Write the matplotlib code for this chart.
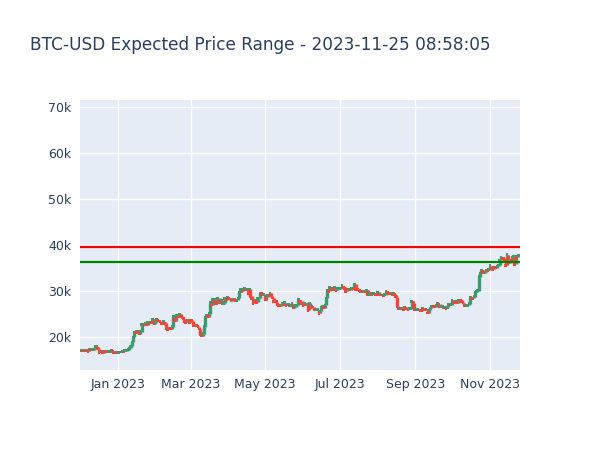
import numpy as np
import pandas as pd
import matplotlib.pyplot as plt
import matplotlib.dates as mdates
from matplotlib.ticker import FuncFormatter

#--------daily closes (USD), Dec 2022 -> Nov 25 2023-------#
first_open = 17170

close_dec = [16970, 17090, 16890, 17110, 16970, 17090, 16840, 17220, 17130, 17130, 17090, 17210, 17780, 17810, 17360, 16630,
             16780, 16740, 16440, 16900, 16830, 16820, 16780, 16840, 16840, 16920, 16700, 16550, 16640, 16600, 16550]
close_jan = [16610, 16670, 16670, 16850, 16830, 16950, 16950, 17090, 17180, 17440, 17940, 18850, 19930, 20950, 20870, 21170,
             21160, 20690, 21090, 22680, 22780, 22710, 22930, 22640, 23060, 23010, 23080, 23030, 23770, 22840, 23140]
close_feb = [23720, 23490, 23430, 23330, 22930, 22760, 23260, 22950, 21800, 21630, 21860, 21790, 21770, 22200, 24330, 23520,
             24570, 24630, 24280, 24840, 24440, 24190, 23950, 23200, 23170, 23550, 23490, 23150]
close_mar = [23650, 23480, 22360, 22350, 22430, 22410, 22200, 21700, 20360, 20190, 20630, 22160, 24200, 24750, 24380, 25050,
             27420, 26970, 28040, 27770, 28170, 27310, 28330, 27490, 27490, 27990, 27140, 27270, 28350, 28030, 28480]
close_apr = [28410, 28200, 27790, 28170, 28180, 28040, 27920, 27960, 28330, 29650, 30230, 29890, 30400, 30490, 30320, 30320,
             29430, 30400, 28820, 28250, 27280, 27820, 27600, 27530, 28310, 28420, 29470, 29340, 29250, 29270]
close_may = [28090, 28680, 29030, 28850, 29540, 28900, 28460, 27690, 27660, 27620, 26990, 26810, 26790, 26930, 27160, 27030,
             27400, 26830, 26890, 27120, 26750, 26850, 27230, 26330, 26470, 26720, 26870, 28090, 27750, 27700, 27220]
close_jun = [26820, 27250, 27070, 27120, 25760, 27240, 26340, 26500, 26480, 25850, 25940, 25900, 25920, 25120, 25580, 26330,
             26510, 26340, 26850, 28330, 30030, 29910, 30700, 30550, 30480, 30270, 30690, 30090, 30450, 30480]
close_jul = [30590, 30620, 31160, 30770, 30510, 29900, 30350, 30290, 30170, 30420, 30620, 30390, 31480, 30320, 30300, 30250,
             30150, 29860, 29910, 29800, 29910, 29800, 30090, 29180, 29230, 29350, 29230, 29310, 29360, 29280, 29230]
close_aug = [29710, 29180, 29180, 29070, 29090, 29050, 29180, 29770, 29580, 29430, 29400, 29420, 29280, 29410, 29170, 28700,
             26660, 26050, 26100, 26190, 26120, 25930, 26430, 26160, 26060, 26010, 26090, 26110, 27730, 27300, 25940]
close_sep = [25800, 25870, 25970, 25830, 25780, 25750, 26240, 25910, 25890, 25830, 25160, 25840, 26230, 26540, 26610, 26570,
             26530, 26770, 27210, 27130, 26570, 26580, 26580, 26260, 26300, 26220, 26370, 27020, 26910, 26970]
close_oct = [27980, 27530, 27430, 27790, 27410, 27950, 27970, 27940, 27600, 27390, 26880, 26760, 26860, 26860, 27160, 28520,
             28420, 28330, 28720, 29680, 29920, 29990, 33090, 33900, 34500, 34160, 33910, 34090, 34540, 34480, 34670]
close_nov = [35440, 34940, 34730, 35080, 35050, 35040, 35400, 35620, 36700, 37310, 37130, 37070, 36490, 35540, 37880, 36150,
             36600, 36570, 37360, 37450, 35810, 37420, 37290, 37720, 37800]

upper_bound = 39600
lower_bound = 36340
title = "BTC-USD Expected Price Range - 2023-11-25 08:58:05"

#--------building the frame-------#
closes = (close_dec + close_jan + close_feb + close_mar + close_apr + close_may + close_jun +
          close_jul + close_aug + close_sep + close_oct + close_nov)
dates = pd.date_range("2022-12-01", periods=len(closes), freq="D")
df = pd.DataFrame({"date": dates, "close": closes})
df["open"] = df["close"].shift(1).fillna(first_open)

up = df[df["close"] >= df["open"]]
down = df[df["close"] < df["open"]]

#--------plotting-------#
fig = plt.figure(figsize=(6, 4.5), dpi=100)
ax = fig.add_axes([80 / 600, 80 / 450, 440 / 600, 270 / 450])
ax.set_facecolor("#E5ECF6")
ax.grid(True, color="white", linewidth=1)
ax.set_axisbelow(True)
for s in ax.spines.values():
    s.set_visible(False)

ax.vlines(up["date"], up["open"], up["close"], color="#3D9970", linewidth=2.4, zorder=2)
ax.vlines(down["date"], down["open"], down["close"], color="#FF4136", linewidth=2.4, zorder=2)
# flat candles still show as small boxes
ax.scatter(df["date"], df["close"], s=4, marker="s", linewidths=0,
           c=np.where(df["close"] >= df["open"], "#3D9970", "#FF4136"), zorder=2)

ax.axhline(upper_bound, color="red", linewidth=1.6, zorder=3)
ax.axhline(lower_bound, color="green", linewidth=1.6, zorder=3)

ax.set_xlim(pd.Timestamp("2022-11-30 12:00"), pd.Timestamp("2023-11-25 14:00"))
ax.set_ylim(12740, 71600)
ax.set_yticks([20000, 30000, 40000, 50000, 60000, 70000])
ax.yaxis.set_major_formatter(FuncFormatter(lambda v, p: f"{int(v / 1000)}k"))
ax.xaxis.set_major_locator(mdates.MonthLocator(bymonth=[1, 3, 5, 7, 9, 11]))
ax.xaxis.set_major_formatter(mdates.DateFormatter("%b %Y"))
ax.tick_params(length=0, labelsize=9, colors="#2a3f5f", pad=6)

fig.text(30 / 600, 1 - 45 / 450, title, fontsize=12.2, color="#2a3f5f", va="center", ha="left")

plt.savefig("out.png", dpi=100)
